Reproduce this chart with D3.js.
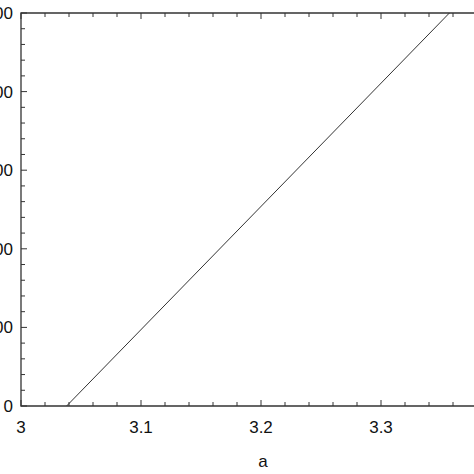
<!DOCTYPE html>
<html>
<head>
<meta charset="utf-8">
<script src="https://cdn.jsdelivr.net/npm/d3@7"></script>
<style>
  body { margin: 0; background: #fff; overflow: hidden; }
  text { font-family: "Liberation Sans", Arial, sans-serif; fill: #111; }
</style>
</head>
<body>
<svg id="chart" width="474" height="474"></svg>
<script>
// line end points (a, value)
var aValues = [3.038, 3.357];
var yValues = [0, 1000];
var xTicks = [3, 3.1, 3.2, 3.3];
var yTicks = [0, 200, 400, 600, 800, 1000];

var svg = d3.select("#chart");
var plotLeft = 21, plotTop = 13, plotBottom = 406;

var x = d3.scaleLinear().domain([3, 3.4]).range([plotLeft, plotLeft + 480]);
var y = d3.scaleLinear().domain([0, 1000]).range([plotBottom, plotTop]);

var g = svg.append("g");

// frame (left, bottom, top)
g.append("path")
  .attr("d", "M" + x(3.4) + "," + plotTop + "H" + plotLeft + "V" + plotBottom + "H" + x(3.4))
  .attr("fill", "none").attr("stroke", "#333").attr("stroke-width", 1.3);

// x ticks
d3.range(0, 21).forEach(function (i) {
  var v = 3 + i * 0.02;
  var len = (i % 5 === 0) ? 6 : 4;
  [[plotBottom, -len], [plotTop, len]].forEach(function (p) {
    g.append("line")
      .attr("x1", x(v)).attr("x2", x(v))
      .attr("y1", p[0]).attr("y2", p[0] + p[1])
      .attr("stroke", "#333");
  });
});
g.selectAll(".xl").data(xTicks).enter().append("text")
  .attr("x", function (d) { return x(d); })
  .attr("y", 433)
  .attr("text-anchor", "middle")
  .attr("font-size", 17)
  .text(function (d) { return d3.format("")(d); });

// y ticks
d3.range(0, 26).forEach(function (i) {
  var v = i * 40;
  var len = (i % 5 === 0) ? 6 : 4;
  g.append("line")
    .attr("x1", plotLeft).attr("x2", plotLeft + len)
    .attr("y1", y(v)).attr("y2", y(v))
    .attr("stroke", "#333");
});
g.selectAll(".yl").data(yTicks).enter().append("text")
  .attr("x", 13)
  .attr("y", function (d) { return y(d) + 6; })
  .attr("text-anchor", "end")
  .attr("font-size", 17)
  .text(function (d) { return d; });

// axis title
g.append("text").attr("x", 263).attr("y", 467)
  .attr("text-anchor", "middle").attr("font-size", 17).text("a");

// data line
var line = d3.line().x(function (d) { return x(d[0]); }).y(function (d) { return y(d[1]); });
g.append("path")
  .datum(d3.zip(aValues, yValues))
  .attr("d", line)
  .attr("fill", "none").attr("stroke", "#333").attr("stroke-width", 1);
</script>
</body>
</html>
